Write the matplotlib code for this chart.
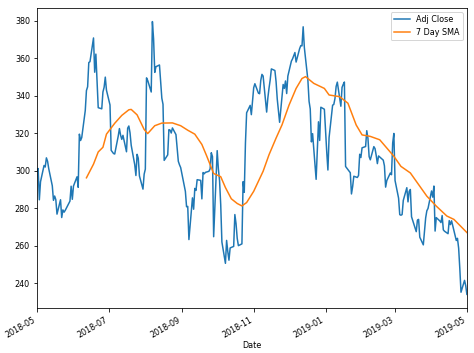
import pandas as pd
import matplotlib
matplotlib.use("Agg")
import matplotlib.pyplot as plt
import matplotlib.dates as mdates

# daily adjusted close, one list per month (trading days only)
may18 = [299.92, 301.15, 284.45, 294.09, 302.77, 301.97, 306.85, 305.02, 301.06, 291.97, 284.18,
         286.48, 284.54, 276.82, 284.49, 275.01, 279.07, 277.85, 278.85, 283.76, 291.72, 284.73]
jun18 = [291.82, 296.74, 291.13, 319.50, 316.09, 317.66, 332.10, 342.77, 344.78, 357.72, 358.17,
         370.83, 352.55, 362.22, 347.51, 333.63, 333.01, 342.00, 344.50, 349.93, 342.95]
jul18 = [335.07, 310.86, 309.16, 308.90, 318.51, 322.47, 318.96, 316.71, 318.87, 310.10, 322.69,
         323.85, 320.23, 313.58, 303.20, 297.43, 308.74, 306.65, 297.18, 290.17, 298.14]
aug18 = [300.84, 349.54, 348.17, 341.99, 379.57, 370.34, 352.45, 355.49, 356.41, 347.64, 338.69,
         335.45, 305.50, 308.44, 321.90, 321.64, 320.10, 322.82, 319.27, 311.86, 305.01, 303.15, 301.66]
sep18 = [288.95, 280.74, 280.95, 263.24, 285.50, 279.44, 290.54, 289.46, 295.20, 294.84, 284.96,
         299.02, 298.33, 299.10, 299.68, 300.99, 309.58, 307.52, 264.77]
oct18 = [310.70, 301.02, 294.80, 281.83, 261.95, 250.56, 262.80, 256.88, 252.23, 258.78, 259.59,
         276.59, 271.78, 263.91, 260.00, 260.95, 294.14, 288.50, 314.86, 330.90, 334.85, 329.90, 337.32]
nov18 = [344.28, 346.41, 341.40, 341.06, 348.16, 351.40, 350.51, 331.28, 338.73, 344.00, 348.44,
         354.31, 353.47, 347.49, 338.19, 325.83, 346.00, 343.92, 347.87, 341.17, 350.48]
dec18 = [358.49, 359.70, 363.06, 357.97, 365.15, 366.76, 366.60, 376.79, 365.71, 348.42, 337.03,
         332.97, 315.38, 319.77, 295.39, 326.09, 316.13, 333.87, 332.80]
jan19 = [310.12, 300.36, 317.69, 334.96, 335.35, 338.53, 344.97, 347.26, 334.40, 344.43, 346.05,
         347.31, 302.26, 298.92, 287.59, 291.51, 297.04, 296.38, 297.46, 308.77, 307.02]
feb19 = [312.21, 312.89, 321.35, 317.22, 307.51, 305.80, 312.84, 311.81, 308.17, 303.77, 307.88,
         305.62, 302.56, 291.23, 294.71, 298.77, 297.86, 314.74, 319.88]
mar19 = [294.79, 285.36, 276.54, 276.24, 276.59, 284.14, 290.92, 283.36, 288.96, 289.96, 275.43,
         269.49, 267.47, 273.60, 274.02, 264.53, 260.42, 267.77, 274.83, 278.62, 279.86]
apr19 = [289.18, 285.88, 291.81, 267.78, 274.96, 273.20, 272.31, 276.06, 268.42, 267.70, 266.38,
         273.36, 271.23, 273.26, 262.75, 263.90, 258.66, 247.63, 235.14, 241.47, 238.69, 234.01]

holidays = ["2018-05-28", "2018-07-04", "2018-09-03", "2018-11-22", "2018-12-05", "2018-12-25",
            "2019-01-01", "2019-01-21", "2019-02-18", "2019-04-19"]

# moving average
sma_dates = ["2018-06-12", "2018-06-18", "2018-06-22", "2018-06-26", "2018-06-29", "2018-07-06",
             "2018-07-12", "2018-07-18", "2018-07-20", "2018-07-25", "2018-07-31", "2018-08-03",
             "2018-08-09", "2018-08-15", "2018-08-24", "2018-08-31", "2018-09-06", "2018-09-12",
             "2018-09-18", "2018-09-22", "2018-09-28", "2018-10-04", "2018-10-08", "2018-10-13",
             "2018-10-18", "2018-10-22", "2018-10-26", "2018-11-01", "2018-11-09", "2018-11-14",
             "2018-11-20", "2018-11-25", "2018-12-01", "2018-12-07", "2018-12-12", "2018-12-15",
             "2018-12-22", "2018-12-31", "2019-01-04", "2019-01-13", "2019-01-20", "2019-01-27",
             "2019-02-01", "2019-02-08", "2019-02-16", "2019-02-22", "2019-02-28", "2019-03-06",
             "2019-03-14", "2019-03-21", "2019-03-28", "2019-04-05", "2019-04-14", "2019-04-20",
             "2019-05-01"]
sma_values = [296.2, 303.5, 310.0, 312.5, 319.5, 325.3,
              329.5, 332.5, 332.7, 329.8, 322.0, 319.8,
              324.0, 325.4, 325.5, 324.0, 321.6, 319.5,
              314.0, 308.0, 298.5, 296.8, 291.0, 285.0,
              282.5, 281.2, 283.0, 289.0, 299.7, 308.5,
              317.4, 324.4, 335.0, 343.9, 349.2, 350.2,
              346.6, 343.9, 340.4, 339.5, 336.0, 324.4,
              319.1, 318.3, 316.5, 312.1, 307.7, 302.3,
              298.8, 292.6, 286.4, 281.1, 275.8, 274.0,
              267.0]

close = may18 + jun18 + jul18 + aug18 + sep18 + oct18 + nov18 + dec18 + jan19 + feb19 + mar19 + apr19
days = pd.bdate_range("2018-05-01", "2019-05-01")
days = days[~days.isin(pd.to_datetime(holidays))]

df = pd.DataFrame({"Adj Close": close}, index=days)
df.index.name = "Date"
sma = pd.Series(sma_values, index=pd.to_datetime(sma_dates))

plt.rcParams["font.size"] = 8
plt.rcParams["axes.linewidth"] = 0.8

fig = plt.figure(figsize=(474 / 72, 353 / 72), dpi=72)
ax = fig.add_axes([0.078, 0.1275, 0.907, 0.85])
ax.plot(df.index, df["Adj Close"], color="tab:blue", lw=1.5, label="Adj Close")
ax.plot(sma.index, sma.values, color="tab:orange", lw=1.5, label="7 Day SMA")

ax.set_xlim(df.index[0], df.index[-1])
ax.xaxis.set_major_locator(mdates.MonthLocator(bymonth=[1, 3, 5, 7, 9, 11]))
ax.xaxis.set_major_formatter(mdates.DateFormatter("%Y-%m"))
for lbl in ax.get_xticklabels():
    lbl.set_rotation(30)
    lbl.set_ha("right")
ax.set_xlabel("Date", labelpad=2)
ax.legend(loc="upper right")

fig.savefig("out.png", dpi=72)
